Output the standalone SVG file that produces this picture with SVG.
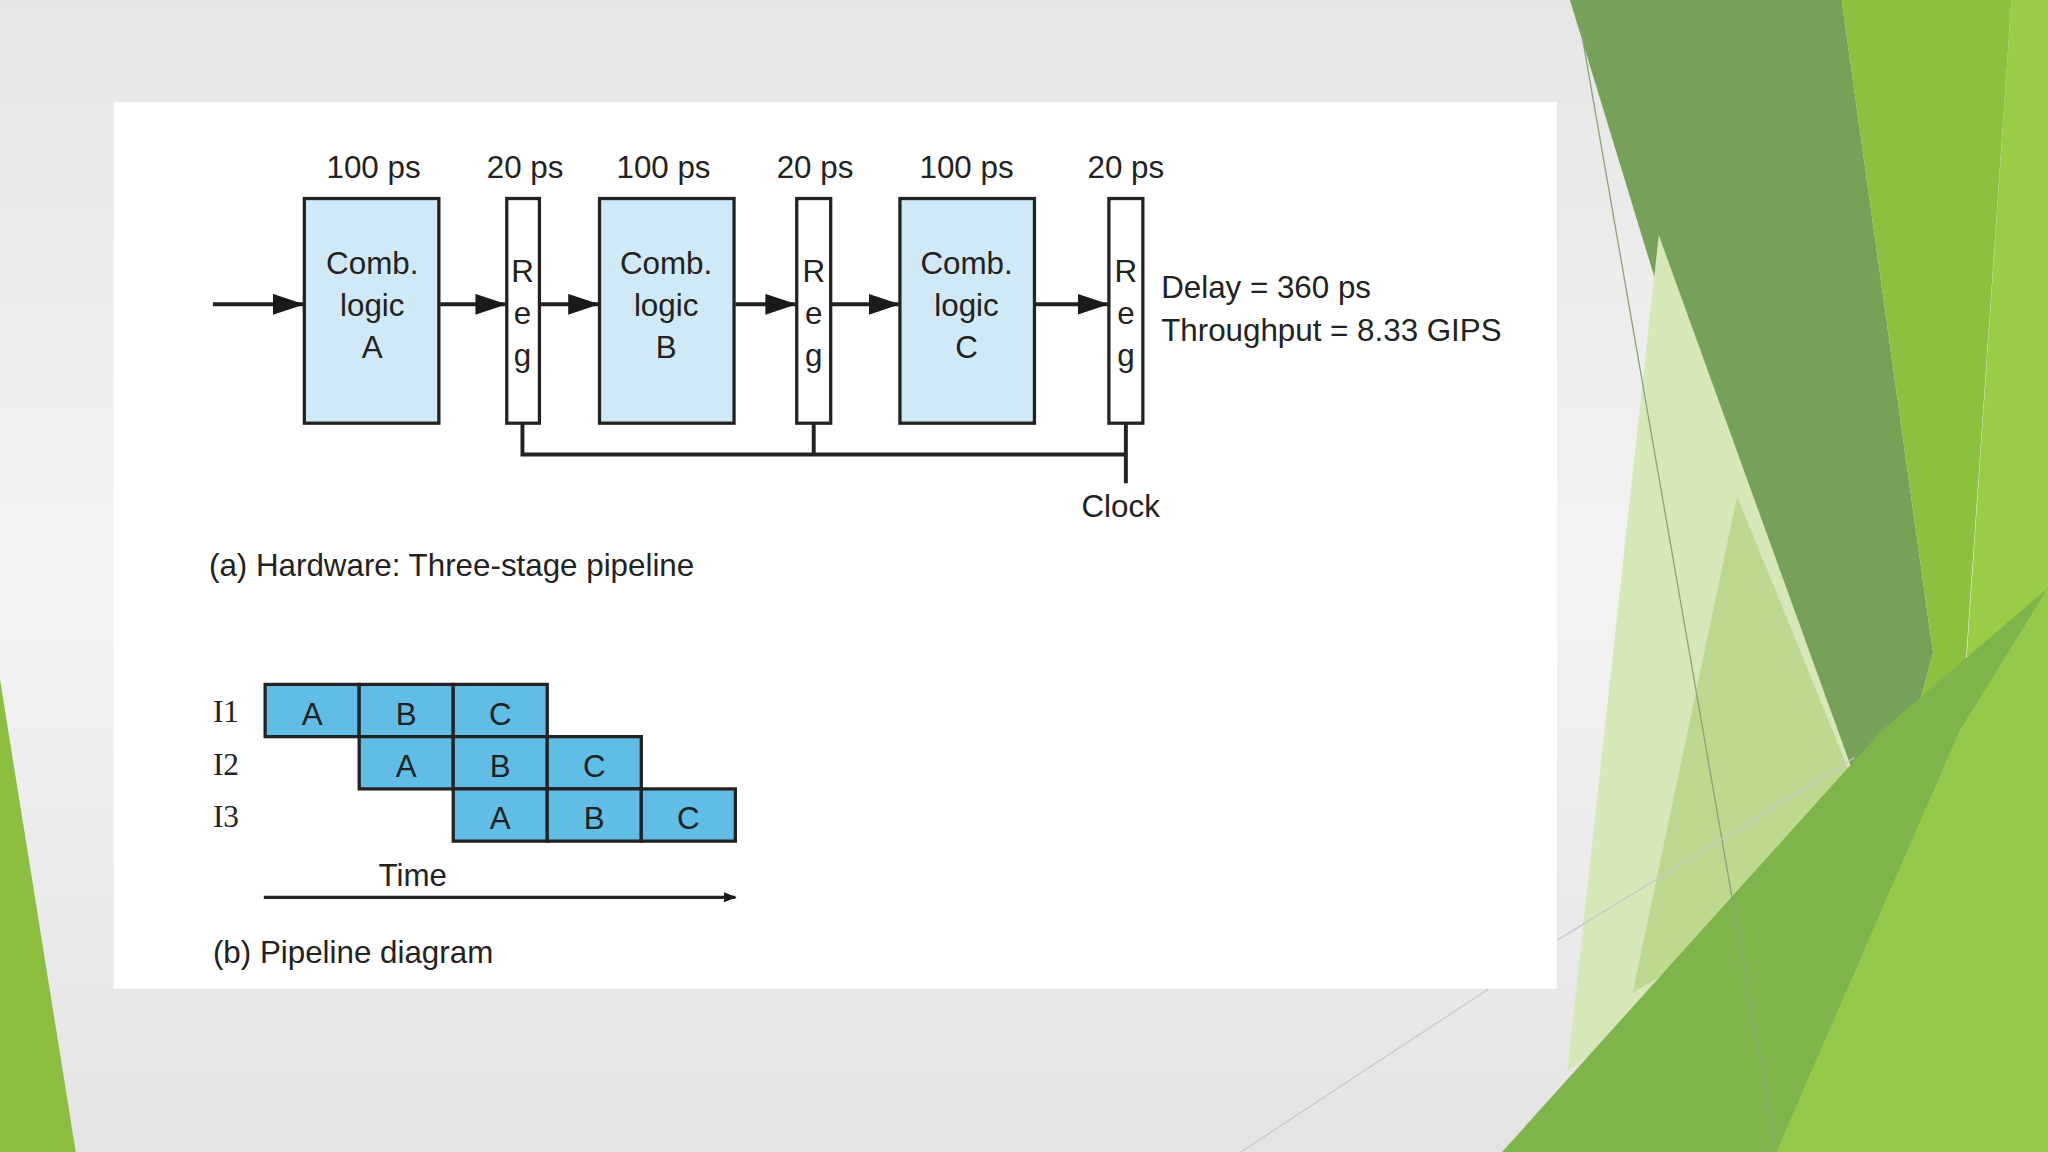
<svg xmlns="http://www.w3.org/2000/svg" width="2048" height="1152" viewBox="0 0 2048 1152">
<defs>
<linearGradient id="bg" x1="0" y1="0" x2="0" y2="1"><stop offset="0" stop-color="#e6e6e6"/><stop offset="0.5" stop-color="#f3f3f3"/><stop offset="1" stop-color="#e4e4e4"/></linearGradient>
<marker id="ah" markerWidth="10" markerHeight="8" refX="9" refY="4" orient="auto" markerUnits="userSpaceOnUse"><path d="M0,0 L10,4 L0,8 z" fill="#1a1a1a"/></marker>
<marker id="ah2" markerWidth="24" markerHeight="16" refX="23" refY="8" orient="auto" markerUnits="userSpaceOnUse"><path d="M0,0 L24,8 L0,16 z" fill="#1a1a1a"/></marker>
<style>
.t{font-family:"Liberation Sans",Arial,sans-serif;font-size:24px;fill:#222;}
.s{font-family:"Liberation Serif","Times New Roman",serif;font-size:24px;fill:#222;}
.comb{fill:#cfe9f7;stroke:#222;stroke-width:2.5;}
.reg{fill:#ffffff;stroke:#222;stroke-width:2.5;}
.cell{fill:#5fbde6;stroke:#222;stroke-width:2.5;}
.ln{stroke:#222;stroke-width:3;fill:none;}
</style>
</defs>
<rect width="2048" height="1152" fill="url(#bg)"/>
<g transform="scale(1.30612)">
<g id="decor">
<polygon points="0,520 0,882 58,882" fill="#8cbf3f"/>
<polygon points="1202,0 1410,0 1480,500 1440,650 1330,420" fill="#77a058"/>
<polygon points="1410,0 1540,0 1500,580 1440,650 1480,500" fill="#8dc03f"/>
<polygon points="1540,0 1568,0 1568,882 1480,882" fill="#9ccc47"/>
<polygon points="1270,180 1440,650 1200,820" fill="#d6e8b8"/>
<polygon points="1330,380 1440,650 1250,760" fill="#bcd98f"/>
<polygon points="1150,882 1440,560 1568,450 1568,882" fill="#7fb44a"/>
<polygon points="1360,882 1500,560 1568,450 1568,882" fill="#96c94a"/>
<line x1="1210" y1="20" x2="1360" y2="882" stroke="#8aa37a" stroke-width="1"/>
<line x1="950" y1="882" x2="1140" y2="757" stroke="#c8c8c8" stroke-width="1"/>
<line x1="1192" y1="720" x2="1420" y2="580" stroke="#c8c8c8" stroke-width="1"/>
</g>
<rect x="87" y="78" width="1105" height="679" fill="#ffffff"/>
<g id="labels">
<text class="t" x="286" y="136" text-anchor="middle">100 ps</text>
<text class="t" x="402" y="136" text-anchor="middle">20 ps</text>
<text class="t" x="508" y="136" text-anchor="middle">100 ps</text>
<text class="t" x="624" y="136" text-anchor="middle">20 ps</text>
<text class="t" x="740" y="136" text-anchor="middle">100 ps</text>
<text class="t" x="862" y="136" text-anchor="middle">20 ps</text>
<text class="t" x="889" y="228">Delay = 360 ps</text>
<text class="t" x="889" y="261">Throughput = 8.33 GIPS</text>
<text class="t" x="858" y="396" text-anchor="middle">Clock</text>
<text class="t" x="160" y="441">(a) Hardware: Three-stage pipeline</text>
<text class="t" x="316" y="678" text-anchor="middle">Time</text>
<text class="t" x="163" y="737">(b) Pipeline diagram</text>
</g>
<g id="combA"><rect class="comb" x="233" y="152" width="103" height="172"/><text class="t" text-anchor="middle" x="285" y="210">Comb.</text><text class="t" text-anchor="middle" x="285" y="242">logic</text><text class="t" text-anchor="middle" x="285" y="274">A</text></g>
<g id="combB"><rect class="comb" x="459" y="152" width="103" height="172"/><text class="t" text-anchor="middle" x="510" y="210">Comb.</text><text class="t" text-anchor="middle" x="510" y="242">logic</text><text class="t" text-anchor="middle" x="510" y="274">B</text></g>
<g id="combC"><rect class="comb" x="689" y="152" width="103" height="172"/><text class="t" text-anchor="middle" x="740" y="210">Comb.</text><text class="t" text-anchor="middle" x="740" y="242">logic</text><text class="t" text-anchor="middle" x="740" y="274">C</text></g>
<g id="reg1"><rect class="reg" x="388" y="152" width="25" height="172"/><text class="t" text-anchor="middle" x="400" y="216">R</text><text class="t" text-anchor="middle" x="400" y="248">e</text><text class="t" text-anchor="middle" x="400" y="280">g</text></g>
<g id="reg2"><rect class="reg" x="610" y="152" width="26" height="172"/><text class="t" text-anchor="middle" x="623" y="216">R</text><text class="t" text-anchor="middle" x="623" y="248">e</text><text class="t" text-anchor="middle" x="623" y="280">g</text></g>
<g id="reg3"><rect class="reg" x="849" y="152" width="26" height="172"/><text class="t" text-anchor="middle" x="862" y="216">R</text><text class="t" text-anchor="middle" x="862" y="248">e</text><text class="t" text-anchor="middle" x="862" y="280">g</text></g>
<g id="connectors">
<line class="ln" x1="163" y1="233" x2="232" y2="233" marker-end="url(#ah2)"/>
<line class="ln" x1="337" y1="233" x2="387" y2="233" marker-end="url(#ah2)"/>
<line class="ln" x1="414" y1="233" x2="458" y2="233" marker-end="url(#ah2)"/>
<line class="ln" x1="563" y1="233" x2="609" y2="233" marker-end="url(#ah2)"/>
<line class="ln" x1="637" y1="233" x2="688" y2="233" marker-end="url(#ah2)"/>
<line class="ln" x1="793" y1="233" x2="848" y2="233" marker-end="url(#ah2)"/>
<polyline class="ln" points="400,324 400,348 862,348"/>
<line class="ln" x1="623" y1="324" x2="623" y2="348"/>
<line class="ln" x1="862" y1="324" x2="862" y2="370"/>
<line x1="202" y1="687" x2="563" y2="687" stroke="#222" stroke-width="2.5" marker-end="url(#ah)"/>
</g>
<g id="pipeline">
<text class="s" x="163" y="553">I1</text><text class="s" x="163" y="593">I2</text><text class="s" x="163" y="633">I3</text>
<rect class="cell" x="203" y="524" width="72" height="40"/><rect class="cell" x="275" y="524" width="72" height="40"/><rect class="cell" x="347" y="524" width="72" height="40"/>
<rect class="cell" x="275" y="564" width="72" height="40"/><rect class="cell" x="347" y="564" width="72" height="40"/><rect class="cell" x="419" y="564" width="72" height="40"/>
<rect class="cell" x="347" y="604" width="72" height="40"/><rect class="cell" x="419" y="604" width="72" height="40"/><rect class="cell" x="491" y="604" width="72" height="40"/>
<g class="t" text-anchor="middle">
<text class="t" x="239" y="555">A</text><text class="t" x="311" y="555">B</text><text class="t" x="383" y="555">C</text>
<text class="t" x="311" y="595">A</text><text class="t" x="383" y="595">B</text><text class="t" x="455" y="595">C</text>
<text class="t" x="383" y="635">A</text><text class="t" x="455" y="635">B</text><text class="t" x="527" y="635">C</text>
</g>
</g>
</g>
</svg>
